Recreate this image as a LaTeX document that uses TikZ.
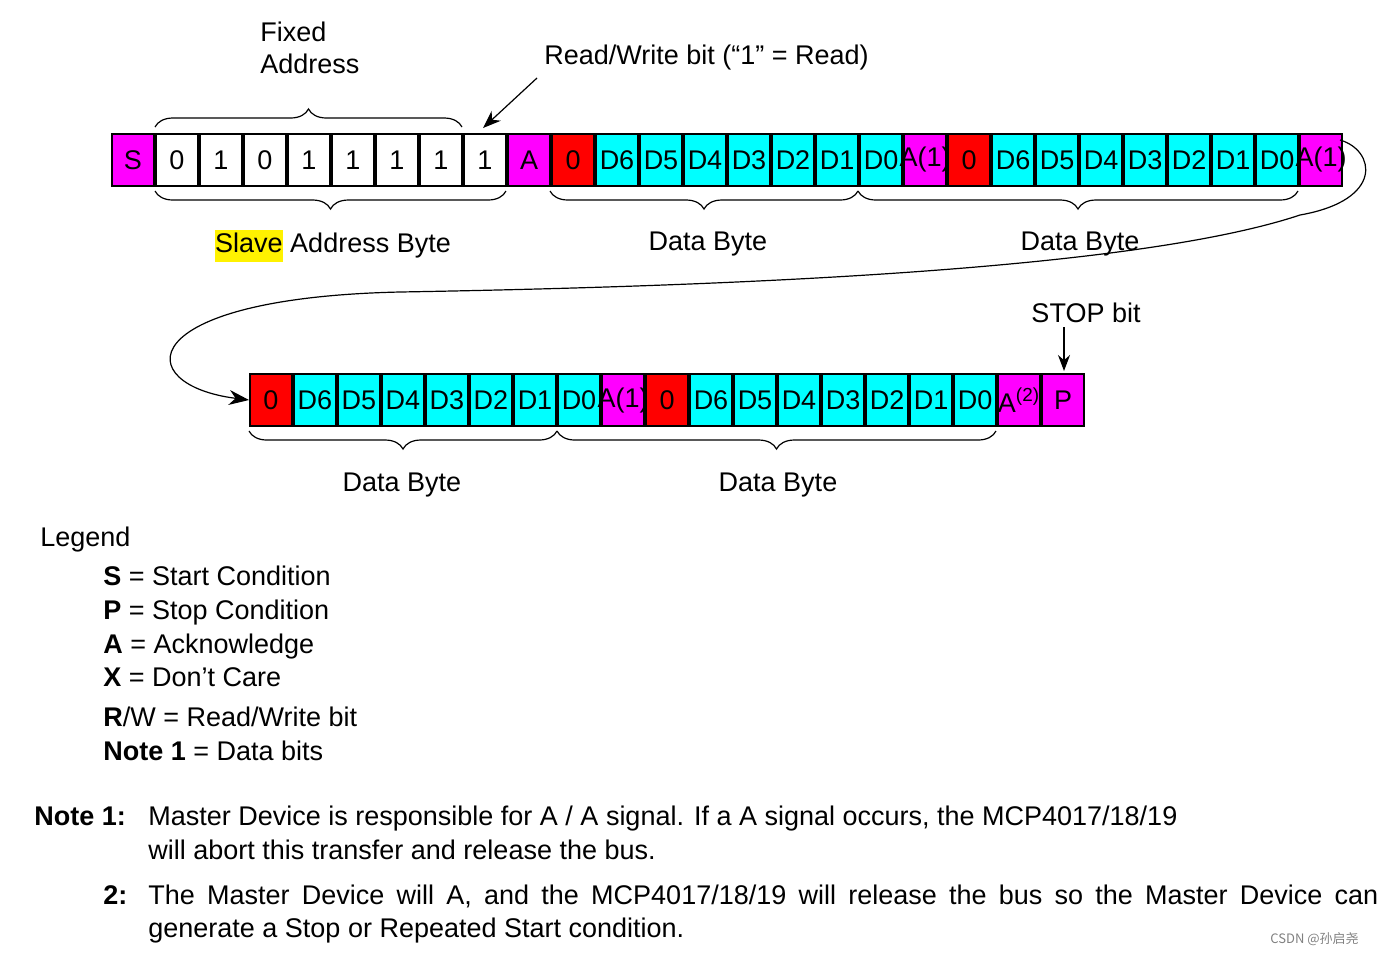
\documentclass[tikz,border=0pt]{standalone}
\usepackage{fontspec}
\setmainfont{Liberation Sans}
\newfontfamily\cjk{Noto Sans CJK SC}
\usetikzlibrary{arrows.meta,decorations.pathreplacing}

\definecolor{ackmag}{RGB}{255,0,255}
\definecolor{bitred}{RGB}{255,0,0}
\definecolor{datcyan}{RGB}{0,255,255}

\tikzset{
    cell/.style={draw, line width=0.8pt, minimum width=21.2pt, minimum height=26.2pt, inner sep=0pt, anchor=west},
    brc/.style={decorate, decoration={brace, amplitude=9pt}, line width=0.6pt},
    txt/.style={inner sep=0pt, anchor=base west},
}

\begin{document}
\begin{tikzpicture}[x=0.5pt, y=-0.5pt, font=\fontsize{13.5}{16}\selectfont]
    \useasboundingbox (0,0) rectangle (1385,955);

    % first row
    \foreach \t/\c [count=\i] in {S/ackmag, 0/white, 1/white, 0/white, 1/white, 1/white, 1/white, 1/white, 1/white,
        A/ackmag, 0/bitred, D6/datcyan, D5/datcyan, D4/datcyan, D3/datcyan, D2/datcyan, D1/datcyan, D0/datcyan, A(1)/ackmag, 0/bitred,
        D6/datcyan, D5/datcyan, D4/datcyan, D3/datcyan, D2/datcyan, D1/datcyan, D0/datcyan, A(1)/ackmag}
        \node[cell, fill=\c] (t\i) at ({111+44*(\i-1)},160) {};
    \foreach \t [count=\i] in {S, 0, 1, 0, 1, 1, 1, 1, 1, A, 0, D6, D5, D4, D3, D2, D1, D0, A(1), 0,
        D6, D5, D4, D3, D2, D1, D0, A(1)}
        \node[inner sep=0pt] (tl\i) at (t\i.center) {\t};

    % second row
    \foreach \t/\c [count=\i] in {0/bitred, D6/datcyan, D5/datcyan, D4/datcyan, D3/datcyan, D2/datcyan, D1/datcyan, D0/datcyan, A(1)/ackmag, 0/bitred,
        D6/datcyan, D5/datcyan, D4/datcyan, D3/datcyan, D2/datcyan, D1/datcyan, D0/datcyan, A/ackmag, P/ackmag}
        \node[cell, fill=\c] (b\i) at ({249+44*(\i-1)},400) {};
    \foreach \t [count=\i] in {0, D6, D5, D4, D3, D2, D1, D0, A(1), 0,
        D6, D5, D4, D3, D2, D1, D0, A\textsuperscript{(2)}, P}
        \node[inner sep=0pt] (bl\i) at (b\i.center) {\t};

    % braces
    \draw[brc] (155,127) -- (462,127);
    \draw[brc] (506,191) -- (155,191);
    \draw[brc] (858,191) -- (550,191);
    \draw[brc] (1298,191) -- (858,191);
    \draw[brc] (557,431) -- (249,431);
    \draw[brc] (996,431) -- (557,431);

    \node[txt, align=left, anchor=north west] (fixed) at (260,22) {Fixed\\Address};
    \node[txt, anchor=base] (slave) at (333,252) {{\fboxsep=0pt\colorbox{yellow}{\strut Slave}} Address Byte};
    \node[txt, anchor=base] (db1) at (708,250) {Data Byte};
    \node[txt, anchor=base] (db2) at (1080,250) {Data Byte};
    \node[txt, anchor=base] (db3) at (402,491) {Data Byte};
    \node[txt, anchor=base] (db4) at (778,491) {Data Byte};

    % read/write and stop markers
    \node[txt] (rw) at (544,64) {Read/Write bit (``1'' = Read)};
    \coordinate (rwa) at (537,78);
    \coordinate (rwb) at (483,128);
    \draw[-{Stealth[length=9pt]}, line width=0.6pt] (rwa) -- (rwb);
    \node[txt, anchor=base] (stop) at (1086,322) {STOP bit};
    \coordinate (sa) at (1064,327);
    \coordinate (sb) at (1064,371);
    \draw[-{Stealth[length=8pt]}, line width=0.6pt] (sa) -- (sb);

    % wrap connector
    \coordinate (w0) at (1340,140);
    \coordinate (w1) at (1300,215);
    \coordinate (w2) at (400,292);
    \draw[-{Stealth[length=10pt]}, line width=0.6pt] (w0) .. controls (1375,150) and (1385,200) .. (w1)
        .. controls (1150,265) and (800,285) .. (w2)
        .. controls (130,298) and (130,385) .. (b1.west);

    % legend
    \node[txt] (leg) at (40,546) {Legend};
    \node[txt] (l1) at (103,585) {\textbf{S} = Start Condition};
    \node[txt] (l2) at (103,619) {\textbf{P} = Stop Condition};
    \node[txt] (l3) at (103,653) {\textbf{A} = Acknowledge};
    \node[txt] (l4) at (103,686) {\textbf{X} = Don't Care};
    \node[txt] (l5) at (103,726) {\textbf{R}/W = Read/Write bit};
    \node[txt] (l6) at (103,760) {\textbf{Note 1} = Data bits};

    % notes
    \node[txt] (n1) at (34,825) {\textbf{Note 1:}};
    \node[txt] (n1t) at (148,825) {Master Device is responsible for A / A signal. If a A signal occurs, the MCP4017/18/19};
    \node[txt] (n1u) at (148,859) {will abort this transfer and release the bus.};
    \node[txt] (n2) at (103,904) {\textbf{2:}};
    \node[txt] (n2t) at (148,904)
        {\makebox[615pt][s]{The Master Device will A, and the MCP4017/18/19 will release the bus so the Master Device can}};
    \node[txt] (n2u) at (148,937) {generate a Stop or Repeated Start condition.};

    \node[txt, text=gray, font=\cjk\fontsize{6.5}{8}\selectfont] (wm) at (1270,943) {CSDN @孙启尧};
\end{tikzpicture}
\end{document}
